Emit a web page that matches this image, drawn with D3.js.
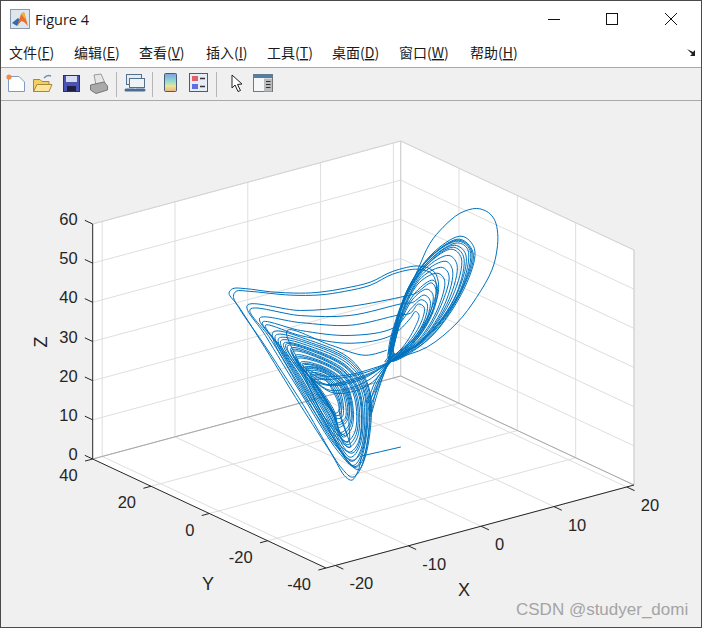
<!DOCTYPE html>
<html>
<head>
<meta charset="utf-8">
<title>Figure 4</title>
<script src="https://cdn.jsdelivr.net/npm/d3@7"></script>
<style>
  body { margin: 0; background: #f0f0f0; }
  svg { display: block; }
</style>
</head>
<body>
<script>
// Textos de la ventana
const tituloVentana = "Figure 4";
const menuLabels = [["文件", "F"], ["编辑", "E"], ["查看", "V"], ["插入", "I"], ["工具", "T"], ["桌面", "D"], ["窗口", "W"], ["帮助", "H"]];
const menuStarts = [9, 74, 139, 206, 267, 332, 399, 470];

// Limites y ticks de los ejes
const xLim = [-21.3, 21];
const yLim = [-40, 40];
const zLim = [0, 60];
const xTicks = [-20, -10, 0, 10, 20];
const yTicks = [40, 20, 0, -20, -40];
const zTicks = [0, 10, 20, 30, 40, 50, 60];

// Trayectoria leida a ojo de la imagen, tramo por tramo, [x, y, z]
const inicioRecto = [[3.4,-4,6.0],[0.6,-4,6.2],[-2.0,-4,6.4]];
const arranque = [[-1.2,-0.9,1.3],[-3.3,-4,0.9],[-3.9,-3.4,1.7],[-7.3,-6.7,10.8],[-14.0,-13,28.5],[-14.3,0,40.7],[-17.3,0,50.9],[-18.6,0,54.9],[-18.1,0,55.8],[-16.3,0,54.9],[-12.9,0,52.4],[-8.8,0,50.0],[-6.1,0,48.9],[-2.7,0,48.2],[0.8,0,48.0],[3.9,0,49.2],[7.6,0,48.7],[9.6,0,46.2],[10.2,0,42.0],[9.4,0,36.5],[7.4,0,31.2],[4.6,0,28.2],[2.8,0,26.6]];

// Vueltas del lobulo derecho
const der0 = [[6.3,0,36.0],[7.0,0,37.4],[7.5,0,36.2],[6.9,0,33.2],[5.5,0,29.6],[3.9,0,27.3]];
const der1 = [[6.3,0,37.3],[7.4,0,39.1],[8.2,0,37.9],[7.9,0,34.7],[6.5,0,30.8],[4.3,0,27.8]];
const der1b = [[6.5,0,38.6],[7.8,0,40.0],[8.6,0,38.6],[8.3,0,34.8],[6.7,0,30.5],[4.3,0,27.5]];
const der2 = [[6.6,0,39.9],[8.2,0,41.0],[9.0,0,39.3],[8.6,0,34.9],[6.8,0,30.2],[4.2,0,27.1]];
const der2b = [[4.0,0,29.3],[5.1,0,36.1],[6.8,0,41.0],[8.6,0,42.3],[9.4,0,40.5],[8.9,0,35.5],[6.9,0,30.1],[4.1,0,27.0]];
const der3 = [[7.0,0,42.0],[9.2,0,43.6],[9.8,0,41.7],[9.3,0,36.1],[7.0,0,30.0],[4.1,0,26.9]];
const der3b = [[3.9,0,29.2],[5.1,0,36.8],[7.1,0,42.4],[9.4,0,44.2],[10.0,0,42.3],[9.5,0,36.4],[7.1,0,30.0],[4.0,0,26.9]];
const der4 = [[3.8,0,28.6],[5.3,0,38.1],[7.6,0,44.6],[10.1,0,45.6],[11.0,0,43.4],[10.1,0,36.7],[7.4,0,29.9],[3.9,0,26.8]];
const der4b = [[3.8,0,28.6],[5.4,0,39.0],[7.9,0,45.7],[10.7,0,46.8],[11.6,0,44.4],[10.5,0,37.1],[7.6,0,29.8],[3.8,0,26.7]];
const der5 = [[3.7,0,28.7],[5.5,0,39.8],[8.2,0,46.8],[11.2,0,48.1],[12.1,0,45.4],[11.1,0,37.5],[7.8,0,29.7],[3.8,0,26.6]];
const der5b = [[3.6,0,28.6],[5.5,0,40.6],[8.4,0,47.7],[11.6,0,49.4],[12.7,0,46.6],[11.6,0,38.1],[8.0,0,29.8],[3.8,0,26.6]];
const der6 = [[3.6,0,28.5],[5.6,0,41.5],[8.7,0,48.6],[12.0,0,50.8],[13.3,0,47.9],[12.1,0,38.7],[8.2,0,30.0],[3.7,0,26.6]];
const der6b = [[3.6,0,28.6],[5.6,0,41.8],[8.9,0,49.0],[12.2,0,51.2],[13.6,0,48.2],[12.6,0,39.0],[8.3,0,29.9],[3.7,0,26.6]];
const der6c = [[3.6,0,28.4],[5.7,0,42.1],[9.0,0,49.5],[12.4,0,51.6],[13.9,0,48.6],[12.8,0,39.4],[8.4,0,30.0],[3.7,0,26.5]];
const der7 = [[3.6,0,28.2],[5.7,0,42.7],[9.2,0,50.4],[12.9,0,52.4],[14.5,0,49.3],[13.4,0,40.2],[8.6,0,30.0],[3.7,0,26.4]];
const der7b = [[3.5,0,28.4],[5.8,0,42.4],[9.3,0,50.0],[12.8,0,52.0],[14.2,0,49.6],[13.2,0,39.9],[8.5,0,30.1],[3.7,0,26.3]];
const der7c = [[3.5,0,28.2],[5.8,0,43.0],[9.4,0,50.7],[13.0,0,52.6],[14.7,0,49.0],[13.6,0,40.6],[8.7,0,29.8],[3.6,0,26.4]];
const der8 = [[3.4,0,28.3],[5.9,0,43.4],[9.6,0,51.0],[13.1,0,52.8],[14.9,0,48.6],[13.8,0,41.0],[8.9,0,29.6],[3.6,0,26.4]];
const der8b = [[3.4,0,28.1],[6.0,0,43.8],[9.8,0,51.6],[13.4,0,53.4],[15.1,0,49.4],[14.1,0,41.3],[9.1,0,29.8],[3.6,0,26.3]];
const der9 = [[3.2,0,28.1],[3.9,0,31.6],[5.3,0,40.3],[7.3,0,47.8],[9.0,0,53.8],[10.8,0,57.0],[13.1,0,59.4],[15.4,0,59.5],[17.0,0,57.7],[17.9,0,55.2],[18.3,0,51.7],[18.2,0,47.5],[17.5,0,42.7],[15.4,0,36.8],[12.7,0,31.6],[8.6,0,27.5],[3.9,0,26.5]];

// Vueltas del lobulo izquierdo
const izq1 = [[-11.4,-10.5,32.7],[-8.5,-7.8,30.3],[-6.7,-6.1,25.8],[-5.6,-5.1,21.8],[-5.6,-5.1,20.0],[-6.3,-5.7,20.1],[-8.1,-7.4,23.5],[-10.2,-9.4,28.4]];
const izq2 = [[-11.8,-10.9,34.8],[-8.5,-7.8,31.6],[-5.6,-5.1,25.9],[-4.5,-4.0,20.6],[-4.8,-4.3,17.8],[-6.3,-5.7,18.8],[-7.6,-7.0,22.4],[-10.0,-9.2,29.0]];
const izq3 = [[-12.8,-11.9,37.0],[-9.1,-8.4,33.4],[-5.2,-4.7,26.8],[-3.4,-3.0,20.5],[-3.6,-3.2,16.1],[-5.6,-5.1,15.9],[-6.3,-5.7,20.1],[-9.1,-8.4,27.8]];
const izq4 = [[-14.0,-13.0,39.4],[-9.6,-8.8,35.0],[-4.5,-4.0,27.0],[-2.6,-2.2,20.3],[-2.6,-2.2,13.4],[-4.5,-4.0,12.5],[-6.9,-6.3,20.6],[-10.7,-9.9,30.8]];
const izq5 = [[-15.1,-14.0,42.1],[-10.0,-9.2,36.7],[-4.1,-3.6,27.9],[-1.4,-1.1,20.1],[-1.4,-1.1,9.9],[-3.4,-3.0,9.0],[-7.9,-7.2,21.3],[-11.6,-10.7,31.6]];
const izq6 = [[-16.1,-15.0,44.8],[-10.2,-9.4,38.1],[-3.6,-3.2,28.3],[-0.6,-0.3,19.9],[-0.8,-0.5,7.3],[-3.0,-2.6,6.1],[-8.7,-8.0,22.1],[-13.0,-12.1,34.1]];
const izq7 = [[-17.7,-16.5,47.4],[-10.7,-9.9,39.8],[-3.4,-3.0,29.4],[0.3,0.5,19.7],[-0.4,-0.1,4.9],[-2.4,-2.0,3.5],[-9.6,-8.8,22.8],[-14.0,-13.0,34.8]];
const izq8 = [[-18.8,-17.5,49.5],[-11.1,-10.3,41.4],[-3.0,-2.6,30.1],[0.9,1.1,19.4],[-0.1,0.1,3.5]];
const izq9 = [[-20.1,-18.8,52.2],[-11.8,-10.9,43.2],[-2.6,-2.2,30.5],[1.4,1.6,19.1],[0.1,0.3,2.8]];
const med1 = [[-11.6,-10.7,33.8],[-8.5,-7.8,31.0],[-6.2,-5.6,25.9],[-5.1,-4.6,21.2],[-5.2,-4.7,18.9],[-6.3,-5.7,19.5],[-7.9,-7.2,23.0],[-10.1,-9.3,28.7]];
const med2 = [[-12.3,-11.4,35.9],[-8.8,-8.1,32.5],[-5.4,-4.9,26.4],[-4.0,-3.5,20.6],[-4.2,-3.8,17.0],[-6.0,-5.4,17.4],[-7.0,-6.4,21.3],[-9.6,-8.8,28.4]];
const med3 = [[-13.4,-12.5,38.2],[-9.4,-8.6,34.2],[-4.9,-4.4,26.9],[-3.0,-2.6,20.4],[-3.1,-2.7,14.8],[-5.1,-4.6,14.2],[-6.6,-6.0,20.4],[-9.9,-9.2,29.3]];
const med4 = [[-14.6,-13.5,40.8],[-9.8,-9.0,35.9],[-4.3,-3.8,27.5],[-2.0,-1.7,20.2],[-2.0,-1.7,11.7],[-4.0,-3.5,10.8],[-7.4,-6.8,21.0],[-11.2,-10.3,31.2]];
const med5 = [[-15.6,-14.5,43.5],[-10.1,-9.3,37.4],[-3.9,-3.4,28.1],[-1.0,-0.7,20.0],[-1.1,-0.8,8.6],[-3.2,-2.8,7.6],[-8.3,-7.6,21.7],[-12.3,-11.4,32.9]];
const med6 = [[-16.9,-15.8,46.1],[-10.5,-9.7,39.0],[-3.5,-3.1,28.9],[-0.2,0.1,19.8],[-0.6,-0.3,6.1],[-2.7,-2.3,4.8],[-9.2,-8.4,22.5],[-13.5,-12.6,34.5]];
const med7 = [[-18.3,-17.0,48.5],[-10.9,-10.1,40.6],[-3.2,-2.8,29.8],[0.6,0.8,19.6],[-0.3,0.0,4.2],[-2.0,-1.7,2.9],[-10.0,-9.2,23.2],[-14.5,-13.4,35.2]];
const med8 = [[-19.5,-18.2,50.9],[-11.5,-10.6,42.3],[-2.8,-2.4,30.3],[1.2,1.4,19.3],[0.0,0.2,3.1],[-1.3,-1.0,1.5],[-11.0,-10.2,24.5],[-15.6,-14.5,37.0]];
const cua0 = [[-11.5,-10.6,33.2],[-8.5,-7.8,30.6],[-6.5,-5.9,25.9],[-5.3,-4.8,21.5],[-5.4,-4.9,19.4]];
const cua1 = [[-11.7,-10.8,34.3],[-8.5,-7.8,31.3],[-5.9,-5.4,25.9],[-4.8,-4.3,20.9],[-5.0,-4.5,18.3]];
const cua2 = [[-12.6,-11.7,36.5],[-9.0,-8.3,33.0],[-5.3,-4.8,26.6],[-3.7,-3.3,20.6],[-3.9,-3.5,16.6],[-5.8,-5.3,16.7],[-6.7,-6.0,20.7],[-9.4,-8.6,28.1]];
const cua3 = [[-13.7,-12.8,38.8],[-9.5,-8.7,34.6],[-4.7,-4.2,27.0],[-2.8,-2.4,20.4],[-2.9,-2.5,14.1],[-4.8,-4.3,13.4],[-6.8,-6.2,20.5],[-10.3,-9.6,30.0]];
const cua3b = [[-13.1,-12.2,37.6],[-9.2,-8.5,33.8],[-5.0,-4.5,26.9],[-3.2,-2.8,20.5],[-3.3,-2.9,15.5]];
const cua4 = [[-14.9,-13.8,41.4],[-9.9,-9.1,36.3],[-4.2,-3.7,27.7],[-1.7,-1.4,20.2],[-1.7,-1.4,10.8],[-3.7,-3.3,9.9],[-7.7,-7.0,21.2],[-11.4,-10.5,31.4]];
const cua5 = [[-15.9,-14.8,44.2],[-10.2,-9.4,37.8],[-3.8,-3.3,28.2],[-0.8,-0.5,20.0],[-1.0,-0.7,8.0]];
const cua6 = [[-17.3,-16.2,46.8],[-10.6,-9.8,39.4],[-3.5,-3.1,29.2],[0.1,0.3,19.8],[-0.5,-0.2,5.5]];

// Salidas del lobulo izquierdo hacia el derecho
const salida9 = [[-3.8,-3.4,12.2],[-8.5,-7.8,20.6],[-14.0,-13,38.7],[-16.9,-15.7,50.0],[-7.3,-6.7,38.3],[0.3,0.5,29.4],[5.1,5.1,26.7]];
const salida10 = [[-3.4,-3.0,10.3],[-7.3,-6.7,17.4],[-14.0,-13,36.9],[-18.3,-17.1,46.9],[-13.6,0,44.2],[-14.0,-13,46.3],[-3.0,-2.6,35.2],[6.2,6.1,29.6]];
const salida11 = [[-3.0,-2.6,8.6],[-6.7,-6.1,15.1],[-14.0,-13,35.4],[-18.8,-17.5,47.8],[-14.0,0,45.2],[-14.0,-13,47.6],[-3.0,-2.6,37.2],[6.8,6.7,31.1]];
const salida12 = [[-2.6,-2.2,6.8],[-6.3,-5.7,13.2],[-14.0,-13,34.3],[-19.5,-18.2,49.1],[-14.4,0,46.4],[-14.0,-13,49.6],[-3.0,-2.6,39.8],[7.6,7.4,33.6]];
const salida13 = [[-2.4,-2.0,4.8],[-6.1,-5.5,11.5],[-14.0,-13,33.1],[-21.0,-19.6,51.9],[-15.7,0,49.3],[-14.0,-13,51.4],[-3.0,-2.6,42.3],[8.6,8.4,35.7]];
const salida14 = [[-1.9,-1.6,2.6],[-5.6,-5.1,9.6],[-14.0,-13,31.8],[-13.6,0,41.6],[-16.1,0,50.5],[-14.0,-13,52.7],[-3.0,-2.6,44.6],[9.1,8.8,37.2]];
const salida15 = [[-2.4,-2.0,0.5],[-4.8,-4.3,4.7],[-13.3,-12.3,27.9],[-14.0,0,40.1],[-17.1,0,50.0],[-18.0,0,53.8],[-17.6,0,54.9],[-15.7,0,53.9],[-10.2,0,50.2],[-6.1,0,48.2],[-2.7,0,47.4],[0.8,0,47.2],[3.9,0,48.5],[7.4,0,48.0],[9.3,0,45.8],[9.9,0,41.9],[9.0,0,36.2],[6.8,0,30.7],[4.3,0,27.8]];

// Abanico que entra al lobulo izquierdo y bajadas cerca del cruce
const abanico1 = [[0.9,1.1,23.5],[-4.1,-3.6,25.6],[-7.9,-7.2,28.5]];
const abanico2 = [[1.4,1.6,23.9],[-4.1,-3.6,26.4],[-8.5,-7.8,29.3]];
const abanico3 = [[1.9,2,21.2],[-3.0,-2.6,22.7],[-7.3,-6.7,26.3]];
const abanico4 = [[1.9,2,24.3],[-4.1,-3.6,27.4],[-9.6,-8.8,31.7]];
const abanico5 = [[1.2,1.4,23.7],[-4.1,-3.6,26.0],[-8.1,-7.4,28.9]];
const abanico6 = [[2.1,2.2,24.6],[-3.6,-3.2,27.6],[-9.1,-8.4,32.0]];
const abanico7 = [[1.7,1.8,22.4],[-3.4,-3.0,24.0],[-7.9,-7.2,27.4]];
const bajada1 = [[3.1,3.2,19.4],[1.7,1.8,13.5],[3.1,3.2,17.6]];
const bajada2 = [[2.7,2.8,21.0],[0.9,1.1,16.6],[2.7,2.8,19.0]];
const bajada3 = [[2.9,3.0,20.2],[1.1,1.3,14.9],[2.9,3.0,18.2]];

const trayectoria = [
  inicioRecto.slice(-1), arranque, der5, der7, der8, der9,
  abanico1, izq1, izq2, izq3, izq4, izq5, izq6, izq7, izq8, salida14,
  der3, der4b, bajada1, der6, der6c,
  abanico2, med2, med3, med4, med5, med6, med7, med8, izq9, salida15,
  der5b, bajada2, der7c,
  abanico3, med1, cua2, cua4, cua6, salida13,
  der2, der2b, bajada3, der4, der6b,
  abanico4, cua3, cua5, salida12,
  der1, der3b, der7b,
  abanico5, cua0, salida11,
  der1b, der8b,
  abanico6, cua3b, salida10,
  der0,
  abanico7, cua1, salida9,
].flat();

const WIDTH = 702;
const HEIGHT = 628;
const COLOR_EJE = "#262626";
const COLOR_GRID = "#dedede";
const COLOR_LINEA = "#0072bd";
const FUENTE = "'Liberation Sans', Arial, sans-serif";

const svg = d3.select("body").append("svg")
  .attr("width", WIDTH)
  .attr("height", HEIGHT)
  .attr("viewBox", `0 0 ${WIDTH} ${HEIGHT}`);

// Proyeccion de la vista 3D: cada escala da el desplazamiento en pixeles
// desde la esquina frontal del piso.
const ORIGEN = { x: 326, y: 568 };
const xEnPx = d3.scaleLinear().domain(xLim).range([0, 308]);
const xEnPy = d3.scaleLinear().domain(xLim).range([0, -83]);
const yEnPx = d3.scaleLinear().domain(yLim).range([0, -233.3]);
const yEnPy = d3.scaleLinear().domain(yLim).range([0, -109]);
const zEnPy = d3.scaleLinear().domain(zLim).range([0, -235]);

const proyectar = ([x, y, z]) => [
  ORIGEN.x + xEnPx(x) + yEnPx(y),
  ORIGEN.y + xEnPy(x) + yEnPy(y) + zEnPy(z),
];

// ---------------- Ventana ----------------
svg.append("rect").attr("width", WIDTH).attr("height", HEIGHT).attr("fill", "#f0f0f0");
svg.append("rect").attr("width", WIDTH).attr("height", 67).attr("fill", "#ffffff");
svg.append("line").attr("x1", 0).attr("x2", WIDTH).attr("y1", 67.5).attr("y2", 67.5).attr("stroke", "#a9a9a9");
svg.append("line").attr("x1", 0).attr("x2", WIDTH).attr("y1", 100.5).attr("y2", 100.5).attr("stroke", "#a9a9a9");

svg.append("text").text(tituloVentana)
  .attr("x", 35).attr("y", 25)
  .attr("font-family", "'Open Sans', 'Noto Sans', sans-serif")
  .attr("font-size", 14.5).attr("fill", "#1a1a1a");

// Logo de la ventana
const logo = svg.append("g");
logo.append("rect").attr("x", 10.5).attr("y", 9.5).attr("width", 19).attr("height", 19)
  .attr("fill", "#dfe7ee").attr("stroke", "#8a9aa8");
logo.append("path").attr("d", "M12 23 L18 18 L21 21 L17 26 Z").attr("fill", "#2f6fb0");
logo.append("path").attr("d", "M17 26 L21 14 L24 12 L28 26 L24 22 L21 21 Z").attr("fill", "#e8702a");
logo.append("path").attr("d", "M21 14 L24 12 L26 20 Z").attr("fill", "#f4b23c");

// Botones de la ventana
svg.append("line").attr("x1", 548).attr("x2", 560).attr("y1", 19.5).attr("y2", 19.5).attr("stroke", "#111");
svg.append("rect").attr("x", 606.5).attr("y", 13.5).attr("width", 11).attr("height", 11).attr("fill", "none").attr("stroke", "#111");
svg.append("path").attr("d", "M665 13 L677 25 M677 13 L665 25").attr("stroke", "#111").attr("fill", "none");

// Menu
const menu = svg.append("g")
  .attr("font-family", "'Noto Sans CJK SC', sans-serif")
  .attr("font-size", 14).attr("fill", "#1a1a1a");
menuLabels.forEach(([nombre, tecla], i) => {
  const t = menu.append("text").attr("x", menuStarts[i]).attr("y", 58);
  t.append("tspan").text(`${nombre}(`);
  t.append("tspan").text(tecla).attr("text-decoration", "underline");
  t.append("tspan").text(")");
});
svg.append("path").attr("d", "M687 49 L693 52 L695 50 L695 56 L690 56 L692 54 Z").attr("fill", "#222");

// Barra de herramientas
const barra = svg.append("g");
[116.5, 152.5, 216.5].forEach(x => {
  barra.append("line").attr("x1", x).attr("x2", x).attr("y1", 72).attr("y2", 97).attr("stroke", "#b5b5b5");
});
// nuevo
barra.append("path").attr("d", "M8.5 76.5 H19 L24.5 82 V91.5 H8.5 Z").attr("fill", "#fff").attr("stroke", "#7f9cc0");
barra.append("circle").attr("cx", 9).attr("cy", 77).attr("r", 2.6).attr("fill", "#ef8a4c");
// abrir
barra.append("path").attr("d", "M33.5 91.5 V79.5 H40 L42 81.5 H49 V91.5 Z").attr("fill", "#f2cf63").attr("stroke", "#a9873a");
barra.append("path").attr("d", "M33.5 91.5 L37 84.5 H52 L49 91.5 Z").attr("fill", "#fbe59a").attr("stroke", "#a9873a");
barra.append("path").attr("d", "M44 78 Q47 74.5 51 76").attr("stroke", "#6f8fb0").attr("fill", "none").attr("stroke-width", 1.5);
// guardar
barra.append("rect").attr("x", 63.5).attr("y", 75.5).attr("width", 16).attr("height", 16).attr("fill", "#4a52b4").attr("stroke", "#2b2f70");
barra.append("rect").attr("x", 66).attr("y", 76).attr("width", 11).attr("height", 6).attr("fill", "#d8dcf2");
barra.append("rect").attr("x", 67).attr("y", 86).attr("width", 9).attr("height", 5).attr("fill", "#1f2040");
// imprimir
barra.append("path").attr("d", "M94 75 L101 74 L105 83 L96 85 Z").attr("fill", "#e6e6e6").attr("stroke", "#9a9a9a");
barra.append("path").attr("d", "M90.5 85 L104 82 L107.5 86 V90 L96 93.5 L90.5 90 Z").attr("fill", "#a9a9a9").attr("stroke", "#777");
// enlace
barra.append("rect").attr("x", 126.5).attr("y", 74.5).attr("width", 15).attr("height", 10).attr("fill", "#e4ebf3").attr("stroke", "#54708f");
barra.append("rect").attr("x", 129.5).attr("y", 78.5).attr("width", 15).attr("height", 9).attr("fill", "#eef3f8").attr("stroke", "#54708f");
barra.append("path").attr("d", "M126 90 H134 M136 90 H144").attr("stroke", "#4a6d94").attr("stroke-width", 3).attr("stroke-linecap", "round");
// barra de color
const gradiente = svg.append("defs").append("linearGradient").attr("id", "barraColor").attr("x1", 0).attr("x2", 0).attr("y1", 0).attr("y2", 1);
[["0%", "#7d9fe0"], ["40%", "#8fd8d0"], ["70%", "#e8e59a"], ["100%", "#efb27a"]].forEach(([o, c]) => {
  gradiente.append("stop").attr("offset", o).attr("stop-color", c);
});
barra.append("rect").attr("x", 164.5).attr("y", 73.5).attr("width", 12).attr("height", 18).attr("rx", 1).attr("fill", "url(#barraColor)").attr("stroke", "#4a5a78");
// leyenda
barra.append("rect").attr("x", 189.5).attr("y", 73.5).attr("width", 18).attr("height", 18).attr("fill", "#e8ecf6").attr("stroke", "#4a5a88");
barra.append("rect").attr("x", 192).attr("y", 76).attr("width", 6).attr("height", 5).attr("fill", "#e0606a");
barra.append("rect").attr("x", 192).attr("y", 84).attr("width", 6).attr("height", 5).attr("fill", "#5f6fe0");
barra.append("path").attr("d", "M200 78.5 H205 M200 86.5 H205").attr("stroke", "#333").attr("stroke-width", 1.5);
// cursor
barra.append("path").attr("d", "M232 75 V88 L235 85 L238 91.5 L240.5 90.5 L237.5 84.5 L242 84 Z").attr("fill", "#fff").attr("stroke", "#222");
// paneles
barra.append("rect").attr("x", 253.5).attr("y", 74.5).attr("width", 19).attr("height", 17).attr("fill", "#f4f6f8").attr("stroke", "#777");
barra.append("rect").attr("x", 253.5).attr("y", 74.5).attr("width", 19).attr("height", 3.5).attr("fill", "#4f7fa8");
barra.append("rect").attr("x", 264).attr("y", 78.5).attr("width", 8).attr("height", 13).attr("fill", "#bbb");
barra.append("path").attr("d", "M266 81.5 H270.5 M266 84.5 H270.5 M266 87.5 H270.5").attr("stroke", "#333");

// ---------------- Ejes ----------------
const contenedorEjes = svg.append("g");
const segmento = (a, b, color, ancho) => {
  const [x1, y1] = proyectar(a);
  const [x2, y2] = proyectar(b);
  contenedorEjes.append("line")
    .attr("x1", x1).attr("y1", y1).attr("x2", x2).attr("y2", y2)
    .attr("stroke", color).attr("stroke-width", ancho);
};

const [xMin, xMax] = xLim;
const [yMin, yMax] = yLim;
const [zMin, zMax] = zLim;

// Fondo blanco de la caja
contenedorEjes.append("polygon")
  .attr("points", [
    [xMin, yMax, zMin], [xMin, yMin, zMin], [xMax, yMin, zMin],
    [xMax, yMin, zMax], [xMax, yMax, zMax], [xMin, yMax, zMax],
  ].map(p => proyectar(p).join(",")).join(" "))
  .attr("fill", "#ffffff");

// Grilla del piso y de las dos paredes
xTicks.forEach(x => {
  segmento([x, yMin, zMin], [x, yMax, zMin], COLOR_GRID, 1);
  segmento([x, yMax, zMin], [x, yMax, zMax], COLOR_GRID, 1);
});
yTicks.forEach(y => {
  segmento([xMin, y, zMin], [xMax, y, zMin], COLOR_GRID, 1);
  segmento([xMax, y, zMin], [xMax, y, zMax], COLOR_GRID, 1);
});
zTicks.forEach(z => {
  segmento([xMin, yMax, z], [xMax, yMax, z], COLOR_GRID, 1);
  segmento([xMax, yMax, z], [xMax, yMin, z], COLOR_GRID, 1);
});

// Bordes de la caja
segmento([xMax, yMax, zMin], [xMax, yMax, zMax], "#cfcfcf", 1);
segmento([xMax, yMin, zMin], [xMax, yMin, zMax], "#cfcfcf", 1);
segmento([xMin, yMax, zMax], [xMax, yMax, zMax], "#d4d4d4", 1);
segmento([xMax, yMax, zMax], [xMax, yMin, zMax], "#d4d4d4", 1);
segmento([xMin, yMax, zMin], [xMax, yMax, zMin], "#a8a8a8", 1);
segmento([xMax, yMax, zMin], [xMax, yMin, zMin], "#a8a8a8", 1);

// Lineas de los ejes
segmento([xMin, yMax, zMin], [xMin, yMin, zMin], COLOR_EJE, 1);
segmento([xMin, yMin, zMin], [xMax, yMin, zMin], COLOR_EJE, 1);
segmento([xMin, yMax, zMin], [xMin, yMax, zMax], COLOR_EJE, 1);

// Marcas: cada tick sale en la direccion de otro eje
const largoTickX = 2.7;
const largoTickY = 1.05;
xTicks.forEach(x => segmento([x, yMin, zMin], [x, yMin - largoTickX, zMin], COLOR_EJE, 1));
yTicks.forEach(y => segmento([xMin, y, zMin], [xMin - largoTickY, y, zMin], COLOR_EJE, 1));
zTicks.forEach(z => segmento([xMin, yMax, z], [xMin, yMax + largoTickX, z], COLOR_EJE, 1));

const etiquetas = svg.append("g")
  .attr("font-family", FUENTE)
  .attr("font-size", 16.5)
  .attr("fill", COLOR_EJE);

xTicks.forEach(x => {
  const [px, py] = proyectar([x, yMin, zMin]);
  etiquetas.append("text").text(x).attr("x", px + 14).attr("y", py + 24);
});
yTicks.forEach(y => {
  const [px, py] = proyectar([xMin, y, zMin]);
  etiquetas.append("text").text(y).attr("x", px - 15).attr("y", py + 22).attr("text-anchor", "end");
});
zTicks.forEach(z => {
  const [px, py] = proyectar([xMin, yMax, z]);
  etiquetas.append("text").text(z).attr("x", px - 15).attr("y", py + 1).attr("text-anchor", "end");
});

// Titulos de los ejes
const tituloEje = (texto, x, y, giro) => svg.append("text").text(texto)
  .attr("transform", `translate(${x},${y}) rotate(${giro})`)
  .attr("text-anchor", "middle")
  .attr("font-family", FUENTE).attr("font-size", 18).attr("fill", COLOR_EJE);
tituloEje("X", 464, 596, 0);
tituloEje("Y", 208, 590, 0);
tituloEje("Z", 47, 342, -90);

// ---------------- Trayectoria ----------------
const dibujarTramo = (puntos, curva) => svg.append("path")
  .attr("d", d3.line().curve(curva)(puntos.map(proyectar)))
  .attr("fill", "none")
  .attr("stroke", COLOR_LINEA)
  .attr("stroke-width", 1)
  .attr("stroke-linejoin", "round");

dibujarTramo(inicioRecto, d3.curveLinear);
dibujarTramo(trayectoria, d3.curveCatmullRom.alpha(0.5));

// Marca de agua
svg.append("text").text("CSDN @studyer_domi")
  .attr("x", 516).attr("y", 615)
  .attr("font-family", FUENTE).attr("font-size", 17).attr("fill", "#a4a4a4");

// Borde de la ventana
svg.append("rect").attr("x", 0.5).attr("y", 0.5).attr("width", WIDTH - 1).attr("height", HEIGHT - 1)
  .attr("fill", "none").attr("stroke", "#4a4a4a");
</script>
</body>
</html>
